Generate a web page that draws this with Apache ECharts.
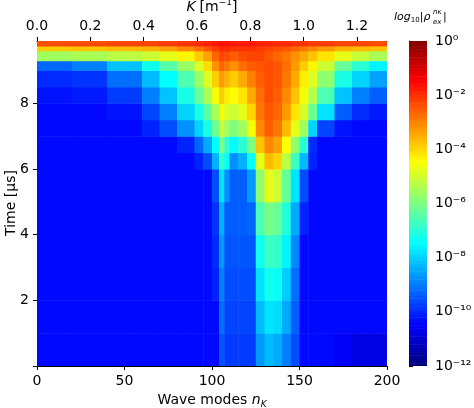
<!DOCTYPE html><html><head><meta charset="utf-8">
<script src="https://cdn.jsdelivr.net/npm/echarts@6/dist/echarts.min.js"></script>
<style>html,body{margin:0;padding:0;background:#fff}#c{width:474px;height:408px}</style></head><body><div id="c"></div>
<script>
const xEdges=[0,20,40,60,70,80,90,95,100,104,107,110,115,120,125,130,135,140,145,150,155,160,170,180,190,200];
const tEdges=[0,1,2,3,4,5,6,6.5,7,7.5,8,8.5,9,9.3,9.6,9.75,9.9];
const B=-10.4;
const logRho=[
[B,B,B,B,B,B,B,B,B,-9.5,-9.8,-9.8,-9.8,-9.8,-8.7,-8.3,-8.5,-9,-9.6,B,B,B,-10.6,-10.8,-10.8],
[B,B,B,B,B,B,B,B,B,-9.2,-9.7,-9.7,-9.7,-9.7,-8.3,-7.8,-7.9,-8.5,-9.4,B,B,B,B,B,B],
[B,B,B,B,B,B,B,B,-10.1,-9,-9.6,-9.6,-9.6,-9.6,-7.8,-7.3,-7.4,-8.1,-9.2,B,B,B,B,B,B],
[B,B,B,B,B,B,B,B,-10,-8.7,-9.5,-9.5,-9.5,-9.5,-7.3,-6.8,-6.9,-7.6,-8.9,B,B,B,B,B,B],
[B,B,B,B,B,B,B,B,-9.9,-8.4,-9.4,-9.4,-9.4,-9.3,-6.6,-6.1,-6.3,-7.1,-8.5,-10.1,B,B,B,B,B],
[B,B,B,B,B,B,B,B,-9.6,-7.8,-8.8,-9.4,-9.4,-8.7,-5.8,-4.8,-5.1,-6.3,-7.8,-9.6,B,B,B,B,B],
[B,B,B,B,B,B,-10.1,-9.6,-8.4,-6.9,-7.4,-8.8,-8.4,-7.4,-4.8,-3.7,-4,-5.3,-6.8,-8.3,-10.1,B,B,B,B],
[B,B,B,B,B,-10.1,-9.3,-8.5,-7.5,-6,-6.9,-7.5,-7,-6,-3.8,-3.1,-3.4,-4.5,-5.8,-7,-10,B,B,B,B],
[B,B,B,-10.1,-9.6,-8.8,-8,-7.2,-6.2,-5.2,-5.6,-6,-5.6,-4.6,-3.1,-2.6,-2.9,-3.7,-4.8,-5.6,-8,-9.7,-10.3,B,B],
[B,B,-10.3,-9.7,-9,-8,-7.2,-6.4,-5.5,-4.6,-4.9,-5.1,-4.8,-4,-2.9,-2.5,-2.7,-3.3,-4.2,-5,-6.2,-7.8,-9.4,-10,-10.2],
[-10.3,-10.2,-9.8,-9,-8.2,-7.2,-6.3,-5.5,-4.6,-3.9,-4.3,-4.5,-4.2,-3.5,-2.8,-2.4,-2.6,-3.1,-3.8,-4.6,-5.4,-6.6,-8.2,-9,-9.4],
[-10,-9.9,-9.2,-8.3,-7.5,-6.6,-5.7,-4.9,-3.9,-3.3,-3.6,-3.9,-3.5,-3,-2.6,-2.4,-2.5,-2.9,-3.5,-4.3,-4.9,-5.8,-7.2,-8,-8.6],
[-9.3,-9,-8.2,-7.3,-6.5,-5.7,-4.9,-4.1,-3.2,-2.7,-2.9,-3.2,-2.8,-2.6,-2.5,-2.4,-2.5,-2.8,-3.3,-3.9,-4.4,-5.1,-6.3,-7,-7.6],
[-5.6,-5.5,-5.3,-5.1,-4.8,-4.4,-3.9,-3.4,-2.7,-2.3,-2.4,-2.6,-2.4,-2.3,-2.3,-2.5,-2.7,-2.9,-3.2,-3.5,-3.8,-4.2,-4.8,-5.2,-5.5],
[-3.9,-3.8,-3.7,-3.6,-3.4,-3.1,-2.8,-2.5,-2.2,-2,-2,-2.1,-2.1,-2.1,-2.2,-2.3,-2.4,-2.5,-2.7,-2.9,-3.1,-3.3,-3.6,-3.7,-3.8],
[-2.4,-2.4,-2.3,-2.3,-2.2,-2.1,-2,-1.9,-1.8,-1.7,-1.7,-1.8,-1.8,-1.8,-1.9,-1.9,-2,-2,-2.1,-2.1,-2.2,-2.2,-2.3,-2.3,-2.4]
];
const cbLevels=[];for(let v=-12;v<0;v+=0.1)cbLevels.push(+v.toFixed(2));
const data=[];
for(let r=0;r<logRho.length;r++)for(let c=0;c<logRho[r].length;c++)
  data.push([xEdges[c],xEdges[c+1],tEdges[r],tEdges[r+1],logRho[r][c]]);
const cbData=cbLevels.map(v=>[0,1,v,v+0.1,v]);
function rect(params,api){
  const p0=api.coord([api.value(0),api.value(2)]);
  const p1=api.coord([api.value(1),api.value(3)]);
  return {type:'rect',shape:{x:p0[0],y:p1[1],width:p1[0]-p0[0]+0.5,height:p0[1]-p1[1]+0.5},style:{fill:api.visual('color')}};
}
const sup={'-12':'⁻¹²','-10':'⁻¹⁰','-8':'⁻⁸','-6':'⁻⁶','-4':'⁻⁴','-2':'⁻²','0':'⁰'};
const F='DejaVu Sans';
const chart=echarts.init(document.getElementById('c'));
chart.setOption({
  animation:false,
  textStyle:{fontFamily:F},
  grid:[{left:37,top:41,width:350,height:325,outerBoundsMode:'none',containLabel:false},
        {left:409,top:41,width:18,height:325,outerBoundsMode:'none',containLabel:false}],
  visualMap:{show:false,min:-12,max:0,dimension:4,seriesIndex:[0,1],
    inRange:{color:['#00007f','#0000ff','#007fff','#00ffff','#7fff7f','#ffff00','#ff7f00','#ff0000','#7f0000']}},
  xAxis:[
   {gridIndex:0,type:'value',min:0,max:200,interval:50,position:'bottom',
    axisLine:{lineStyle:{color:'#000'}},axisTick:{length:4,lineStyle:{color:'#000'}},splitLine:{show:false},
    axisLabel:{color:'#000',fontSize:14,fontFamily:F},
    name:'{n|Wave modes }{i|n}{s|K}',nameLocation:'middle',nameGap:26,
    nameTextStyle:{rich:{n:{fontSize:14,fontFamily:F,color:'#000'},i:{fontSize:14,fontStyle:'italic',fontFamily:F,color:'#000'},s:{fontSize:9,fontStyle:'italic',fontFamily:F,color:'#000',padding:[8,0,0,0]}}}},
   {gridIndex:0,type:'value',min:0,max:1.3125,interval:0.2,position:'top',
    axisLine:{lineStyle:{color:'#000'}},axisTick:{length:4,lineStyle:{color:'#000'}},splitLine:{show:false},
    axisLabel:{color:'#000',fontSize:14,fontFamily:F,showMaxLabel:false,formatter:v=>v.toFixed(1)},
    name:'{i|K} {n|[m}{s|−1}{n|]}',nameLocation:'middle',nameGap:25,
    nameTextStyle:{rich:{n:{fontSize:14,fontFamily:F,color:'#000'},i:{fontSize:14,fontStyle:'italic',fontFamily:F,color:'#000'},s:{fontSize:9,fontFamily:F,color:'#000',padding:[0,0,8,0]}}}},
   {gridIndex:1,type:'value',min:0,max:1,show:false}
  ],
  yAxis:[
   {gridIndex:0,type:'value',min:0,max:9.9,interval:2,
    axisLine:{lineStyle:{color:'#000'}},axisTick:{length:4,lineStyle:{color:'#000'}},splitLine:{show:false},
    axisLabel:{color:'#000',fontSize:14,fontFamily:F,showMaxLabel:false,formatter:v=>v===0?'':String(v)}},
   {gridIndex:1,type:'value',min:-12,max:0,interval:2,position:'right',
    axisLine:{show:true,lineStyle:{color:'#000'}},axisTick:{show:true,length:4,lineStyle:{color:'#000'}},splitLine:{show:false},
    axisLabel:{color:'#000',fontSize:14,fontFamily:F,formatter:v=>'10'+sup[String(v)]}}
  ],
  graphic:[
   {type:'text',x:4,y:203,rotation:Math.PI/2,style:{text:'Time [µs]',fontSize:14,fontFamily:F,fill:'#000',align:'center',verticalAlign:'top'}},
   {type:'text',left:394,top:12,style:{text:'{a|log}{b|10}{a||ρ}',
    rich:{a:{fontSize:11,fontStyle:'italic',fontFamily:F,fill:'#000'},b:{fontSize:7,fontFamily:F,fill:'#000',padding:[6,0,0,0]}}}},
   {type:'text',left:433,top:9,style:{text:'nκ',fontSize:7,fontStyle:'italic',fontFamily:F,fill:'#000'}},
   {type:'text',left:433,top:19,style:{text:'ex',fontSize:7,fontStyle:'italic',fontFamily:F,fill:'#000'}},
   {type:'text',left:443,top:12,style:{text:'|',fontSize:11,fontFamily:F,fill:'#000'}}],
  series:[
   {type:'custom',xAxisIndex:0,yAxisIndex:0,renderItem:rect,data:data,clip:true,
    encode:{x:[0,1],y:[2,3]}},
   {type:'custom',xAxisIndex:2,yAxisIndex:1,renderItem:rect,data:cbData,clip:true,
    encode:{x:[0,1],y:[2,3]}}
  ]
});
</script></body></html>
